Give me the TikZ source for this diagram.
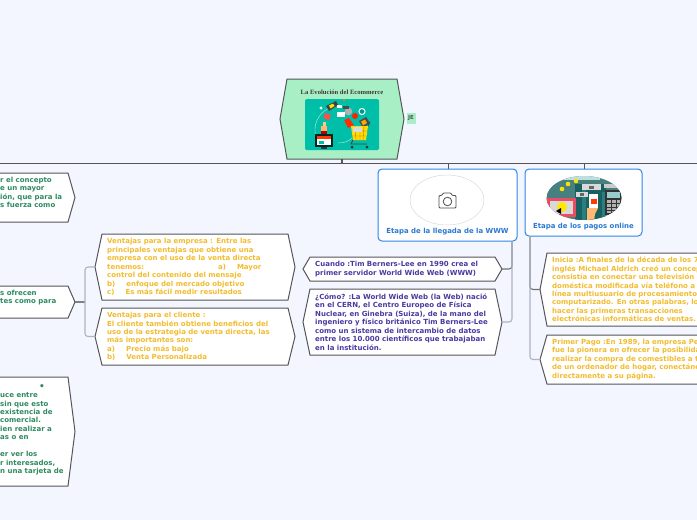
\documentclass[tikz,border=0pt]{standalone}
\usepackage{fontspec}
\setmainfont{DejaVu Sans}
\newfontfamily\titlefont{Liberation Serif}
\usepackage{xcolor}
\usetikzlibrary{positioning,calc}
\definecolor{pagebg}{HTML}{F3F6FF}
\definecolor{hexline}{HTML}{555559}
\definecolor{mintfill}{HTML}{A9EFC5}
\definecolor{cardblue}{HTML}{2F86E6}
\definecolor{txtgreen}{HTML}{2E8B5E}
\definecolor{txtorange}{HTML}{F2BC2E}
\definecolor{txtpurple}{HTML}{4A3AA0}
\definecolor{teal1}{HTML}{00BFA8}
\definecolor{paleline}{HTML}{AEB2C4}
\tikzset{
  hexshape/.style={draw=hexline,line width=1pt,fill=white},
  hextext/.style={inner sep=0pt,align=left,font=\fontsize{7}{8.45}\selectfont\bfseries},
  cardbox/.style={draw=cardblue,line width=1pt,fill=white,rounded corners=4pt},
  cardlabel/.style={inner sep=0pt,text=cardblue!90!black,font=\fontsize{6.95}{8}\selectfont\bfseries},
  trunkline/.style={draw=hexline,line width=1pt},
  branchline/.style={draw=#1,line width=1.1pt,rounded corners=3pt},
}
% name, left, top, right, bottom, text colour, text
\newcommand{\hexbox}[7]{
  \draw[hexshape] ({#2+7},#3) -- ({#4-7},#3) -- (#4,{(#3+#5)/2}) -- ({#4-7},#5)
    -- ({#2+7},#5) -- (#2,{(#3+#5)/2}) -- cycle;
  \coordinate (#1-w) at (#2,{(#3+#5)/2});
  \coordinate (#1-e) at (#4,{(#3+#5)/2});
  \node[hextext,anchor=west,text=#6] (#1) at ({#2+12},{(#3+#5)/2}) {#7};
}
\begin{document}
\begin{tikzpicture}[x=1pt,y=-1pt]
  \useasboundingbox (0,0) rectangle (697,520);
  \fill[pagebg] (0,0) rectangle (697,520);

  % Trunk
  \coordinate (trunkL) at (0,163);
  \coordinate (trunkR) at (697,163);
  \draw[trunkline] (trunkL) -- (trunkR);

  % Central topic
  \draw[hexshape,fill=mintfill] (287,79) -- (397,79) -- (404,119) -- (397,159)
    -- (287,159) -- (280,119) -- cycle;
  \coordinate (rootS) at (342,159);
  \coordinate (rootT) at (342,163);
  \draw[trunkline,line width=1.4pt] (rootS) -- (rootT);
  \node[inner sep=0pt,text=hexline!70!black,font=\fontsize{6.6}{7}\selectfont\titlefont\bfseries] (rootTitle) at (342,92) {La Evolución del Ecommerce};
  \fill[teal1,rounded corners=1.5pt] (305,99) rectangle (379,150);
  % picture of the shop
  \begin{scope}
    \draw[white!70!teal1,line width=.4pt] (316,137) .. controls (311,120) and (325,104) .. (342,106);
    \draw[white!70!teal1,line width=.4pt] (338,143) .. controls (345,143) and (349,141) .. (352,138);
    \fill[white] (321,108) circle (1.7);
    \fill[black!75] (326,106) -- (336,101) -- (338,105) -- (329,111) -- cycle;
    \fill[yellow!85!orange] (329,105.5) -- (333,103.5) -- (334.5,106) -- (330.5,108.5) -- cycle;
    \fill[white] (337,105) rectangle (342,108);
    \fill[orange] (344,100) circle (1.2);
    \fill[white!70!black] (348.5,111.5) circle (3.8);
    \fill[black!70] (343,109) rectangle (349,106);
    \fill[white] (337,112) rectangle (345,117);
    \fill[red!70] (325,113) -- (331,115) -- (329,120) -- (323,118) -- cycle;
    \fill[red!75!orange] (355,116) circle (3);
    \draw[white,line width=1pt,fill=teal1!80!black] (362,111.5) circle (3);
    \fill[red!65!orange] (344,120) -- (349,118) -- (354,125) -- (348,128) -- cycle;
    \fill[black!70] (359,121) -- (366,117) -- (370,123) -- (363,128) -- cycle;
    \fill[orange!70!yellow] (361,121.5) -- (365,119.5) -- (367,123) -- (363,125.5) -- cycle;
    % hand and monitor
    \fill[orange!45!white] (323,122) rectangle (326,127);
    \fill[orange!55!white] (321,126) rectangle (327,132);
    \fill[red!70!black] (321,131) rectangle (327,134);
    \fill[black!80!teal1] (315,134) rectangle (333,147);
    \fill[white] (317,136) rectangle (331,145);
    \fill[red!55!orange] (317,136) rectangle (331,139);
    \fill[teal1] (319,141) rectangle (324,144);
    \fill[black!80] (321,147) rectangle (327,149);
    % cart
    \fill[yellow!80!orange] (351,126) -- (368,126) -- (366,140) -- (353,140) -- cycle;
    \draw[orange!80!black,line width=.4pt] (355,126) -- (356,140) (360,126) -- (360,140) (364,126) -- (363,140)
      (352,131) -- (367,131) (353,136) -- (366,136);
    \fill[white!70!gray] (353,127) rectangle (362,132);
    \draw[black!75,line width=.8pt] (368,126) -- (370,122) (353,140) -- (351,144) -- (367,144);
    \fill[black!80] (352,147) circle (1.5) (367,147) circle (1.5);
  \end{scope}

  % Assignee tag
  \node[fill=mintfill,inner sep=0pt,minimum width=9pt,minimum height=11pt,text=hexline,font=\fontsize{5.5}{6}\selectfont\bfseries] (jeTag) at (411,118.5) {JE};

  % Etapa WWW
  \coordinate (wwwT) at (448,163);
  \coordinate (wwwS) at (448,169);
  \draw[trunkline] (wwwT) -- (wwwS);
  \draw[cardbox] (378,169) rectangle (517,241);
  \draw[black!15,line width=.5pt] (447,200) ellipse (37 and 25);
  \draw[black!70,line width=.8pt,rounded corners=1pt] (439,195.5) -- (442,195.5) -- (443,193) -- (451,193) -- (452,195.5) -- (456,195.5)
    -- (456,208) -- (439,208) -- cycle;
  \draw[black!70,line width=.8pt] (447.5,201.5) circle (4.3);
  \node[cardlabel] (wwwLabel) at (447.5,231.5) {Etapa de la llegada de la WWW};
  \coordinate (wwwOut) at (512,241);

  % Etapa pagos
  \coordinate (pagosT) at (584,163);
  \coordinate (pagosS) at (584,169);
  \draw[trunkline] (pagosT) -- (pagosS);
  \draw[cardbox] (525,169) rectangle (642,236);
  \begin{scope}
    \clip (584,198) ellipse (37.5 and 22);
    \fill[teal!45!gray] (546,174) rectangle (622,220);
    \fill[white!75!teal] (546,174) rectangle (600,180);
    \fill[black!30!teal!80!gray] (575,184) rectangle (606,220);
    \fill[teal!70!gray] (582,190) rectangle (586,220) (602,192) rectangle (606,220);
    \fill[red!50!purple!70] (546,198) -- (576,198) -- (576,217) -- (546,217) -- cycle;
    \fill[white!85!black] (550,201) rectangle (573,214);
    \fill[yellow!90!orange] (562,207) circle (5);
    \fill[black] (556,211) -- (561,208) -- (561,214) -- cycle;
    \fill[white!85!black] (582,184) rectangle (601,190);
    \fill[black!60] (589,185.5) rectangle (594,188.5);
    \fill[white!85!black] (576,191.5) rectangle (588,196.5);
    \fill[black!60] (580,192.5) rectangle (584,195.5);
    \fill[white!80!black] (604,184) rectangle (622,188);
    \fill[black!80] (605,190) rectangle (622,215);
    \fill[teal!40!white] (607,192) rectangle (620,198);
    \fill[white!70!black] (607,200) rectangle (620,213);
    \draw[black!80,line width=.5pt] (611,200) -- (611,213) (616,200) -- (616,213) (607,203.5) -- (620,203.5) (607,207) -- (620,207) (607,210.5) -- (620,210.5);
    \fill[white] (589,194) rectangle (598,208);
    \fill[red!55!orange] (590.5,199) rectangle (596.5,204);
    \fill[orange!55!white] (587,208) -- (598,208) -- (595,214) -- (594,221) -- (587,221) -- cycle;
  \end{scope}
  \fill[yellow!85!orange] (562,189) circle (2.3) (568,184) circle (2.3) (576,181) circle (2.3);
  \node[cardlabel] (pagosLabel) at (583.5,226.5) {Etapa de los pagos online};
  \coordinate (pagosOut) at (530,236);

  % Green (left)
  \hexbox{recomendar}{-60}{173}{75}{222}{txtgreen}{}
  \hexbox{ofrecen}{-60}{286}{75}{318}{txtgreen}{}
  \hexbox{directa}{-60}{377}{75}{486}{txtgreen}{}
  \node[hextext,anchor=north west,text=txtgreen] (recomendarText) at (0,177) {r el concepto\\e un mayor\\ión, que para la\\s fuerza como};
  \node[hextext,anchor=north west,text=txtgreen] (ofrecenText) at (0,290) {s ofrecen\\tes como para};
  \node[hextext,anchor=north west,text=txtgreen] (directaText) at (0,384) {\hspace{39pt}{\fontsize{9}{8.45}\selectfont •}\\uce entre\\ sin que esto\\ existencia de\\ comercial.\\ien realizar a\\as o en\\\mbox{}\\er ver los\\r interesados,\\n una tarjeta de};

  % Orange (ventajas)
  \hexbox{empresa}{95}{234}{295}{300}{txtorange}{Ventajas para la empresa : Entre las\\principales ventajas que obtiene una\\empresa con el uso de la venta directa\\tenemos:\hspace{74pt}a)\hspace{11pt}Mayor\\control del contenido del mensaje\\b)\hspace{11pt}enfoque del mercado objetivo\\c)\hspace{11pt}Es más fácil medir resultados}
  \hexbox{cliente}{95}{308}{295}{365}{txtorange}{Ventajas para el cliente :\\El cliente también obtiene beneficios del\\uso de la estrategia de venta directa, las\\más importantes son:\\a)\hspace{11pt}Precio más bajo\\b)\hspace{11pt}Venta Personalizada}
  \coordinate (ventajasJ) at (85,302);
  \draw[line width=1.2pt,draw=black!50] (ofrecen-e) -- (ventajasJ);
  \draw[branchline=paleline] (ventajasJ) |- (empresa-w);
  \draw[branchline=paleline] (ventajasJ) |- (cliente-w);

  % Purple (WWW)
  \hexbox{cuando}{303}{257}{502}{281}{txtpurple}{Cuando :Tim Berners-Lee en 1990 crea el\\primer servidor World Wide Web (WWW)}
  \hexbox{como}{303}{289}{502}{355}{txtpurple}{¿Cómo? :La World Wide Web (la Web) nació\\en el CERN, el Centro Europeo de Física\\Nuclear, en Ginebra (Suiza), de la mano del\\ingeniero y físico británico Tim Berners-Lee\\como un sistema de intercambio de datos\\entre los 10.000 científicos que trabajaban\\en la institución.}
  \draw[branchline=black!55] (wwwOut) |- (cuando-e);
  \draw[branchline=paleline] (wwwOut) |- (como-e);

  % Orange (pagos)
  \hexbox{inicia}{540}{253}{760}{326}{txtorange}{Inicia :A finales de la década de los 7\\inglés Michael Aldrich creó un concep\\consistía en conectar una televisión\\doméstica modificada vía teléfono a\\línea multiusuario de procesamiento\\computarizado. En otras palabras, lo\\hacer las primeras transacciones\\electrónicas informáticas de ventas.}
  \hexbox{primer}{540}{335}{760}{384}{txtorange}{Primer Pago :En 1989, la empresa Pe\\fue la pionera en ofrecer la posibilida\\realizar la compra de comestibles a t\\de un ordenador de hogar, conectáno\\directamente a su página.}
  \draw[branchline=black!55] (pagosOut) |- (inicia-w);
  \draw[branchline=paleline] (pagosOut) |- (primer-w);
\end{tikzpicture}
\end{document}
